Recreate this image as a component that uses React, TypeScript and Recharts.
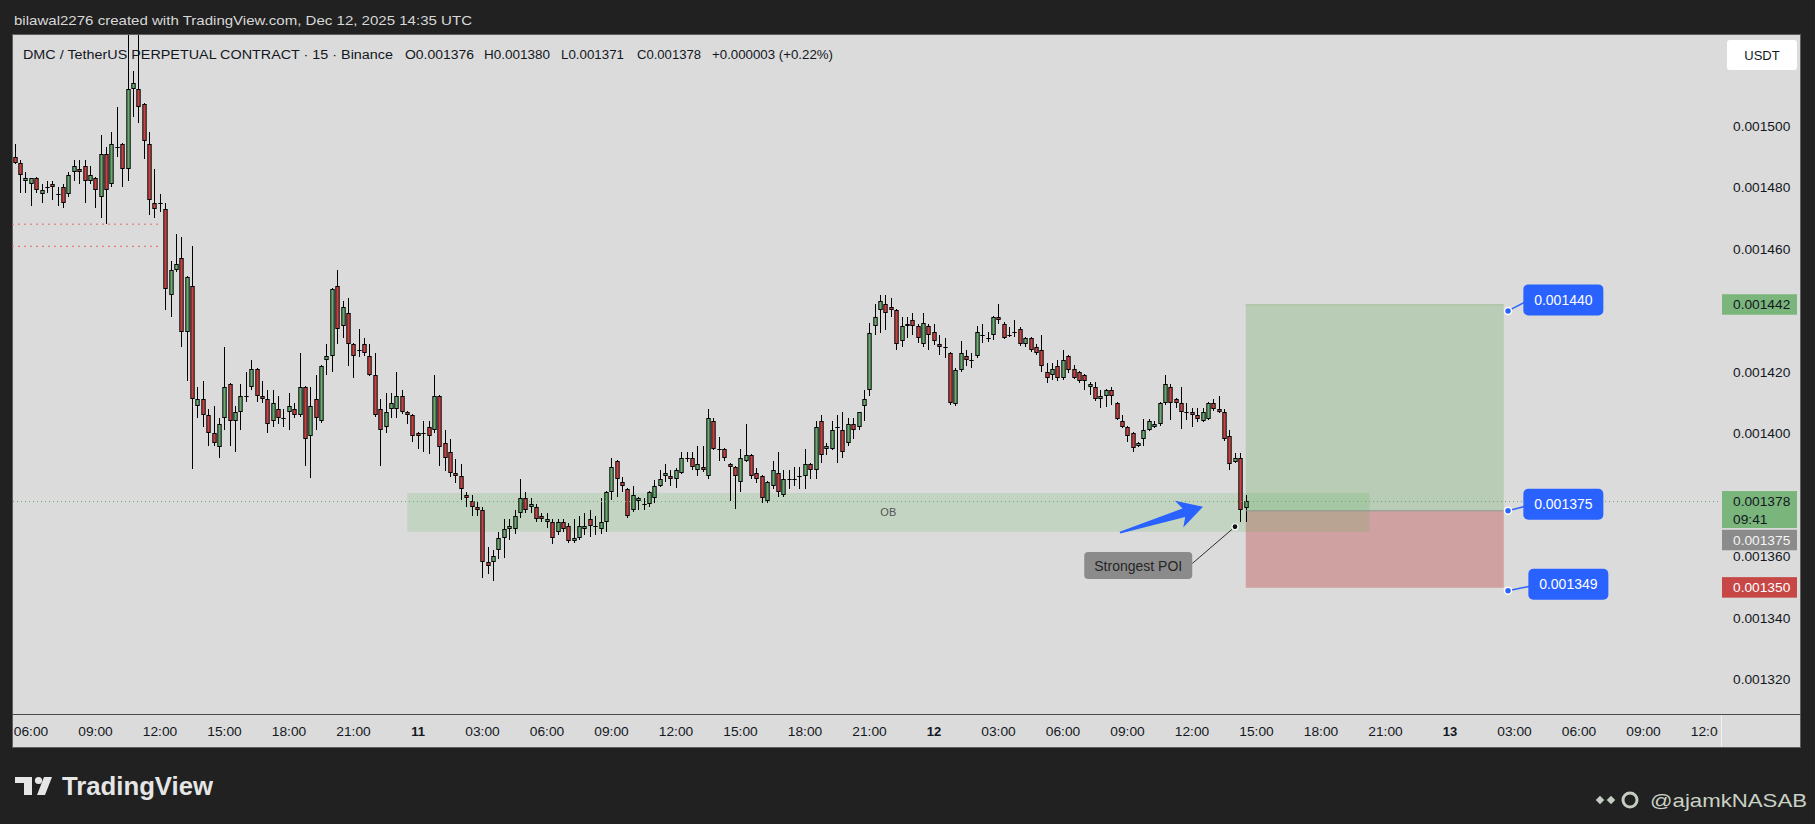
import React from "react";
import {
  ComposedChart,
  Bar,
  XAxis,
  YAxis,
  ReferenceArea,
  ReferenceLine,
  ReferenceDot
} from "recharts";

// DMC/USDT perpetual, 15 min bars, Binance
// prices are in millionths of USDT (1376 -> 0.001376)
// each row: open, high, low, close
const candles: [number, number, number, number][] = [
  [1490.0, 1494.3, 1487.8, 1488.0], [1488.0, 1489.1, 1478.2, 1484.1], [1482.1, 1485.1, 1478.2, 1483.1],
  [1481.2, 1483.1, 1474.2, 1483.1], [1483.1, 1483.6, 1478.2, 1479.2], [1477.9, 1481.2, 1475.2, 1479.2],
  [1480.2, 1482.1, 1478.2, 1480.2], [1481.2, 1482.1, 1476.2, 1480.2], [1477.9, 1480.2, 1474.2, 1477.9],
  [1480.2, 1481.2, 1473.3, 1475.0], [1477.9, 1485.1, 1477.2, 1484.1], [1485.1, 1489.1, 1482.1, 1487.0],
  [1486.0, 1489.1, 1481.4, 1485.1], [1487.0, 1489.1, 1475.2, 1482.1], [1482.1, 1487.0, 1481.2, 1484.1],
  [1483.1, 1483.5, 1473.3, 1479.2], [1477.2, 1497.2, 1470.3, 1490.9], [1490.9, 1493.2, 1468.4, 1479.2],
  [1481.2, 1498.2, 1480.4, 1494.2], [1493.2, 1506.3, 1490.2, 1493.2], [1494.2, 1494.6, 1480.4, 1486.0],
  [1486.0, 1533.0, 1482.4, 1512.1], [1512.1, 1518.0, 1503.2, 1514.0], [1512.1, 1533.0, 1501.2, 1506.2],
  [1507.2, 1507.6, 1489.3, 1495.2], [1494.2, 1498.2, 1471.3, 1476.0], [1475.0, 1486.0, 1470.3, 1473.0],
  [1475.0, 1477.9, 1472.3, 1475.0], [1473.0, 1475.0, 1440.4, 1447.0], [1445.1, 1456.2, 1438.1, 1453.2],
  [1453.2, 1465.0, 1452.8, 1455.2], [1457.1, 1464.0, 1428.4, 1433.0], [1433.0, 1451.3, 1417.3, 1450.9],
  [1448.0, 1461.1, 1388.5, 1411.2], [1409.0, 1415.1, 1405.3, 1411.2], [1411.2, 1417.1, 1402.4, 1406.0],
  [1406.0, 1408.0, 1396.2, 1400.2], [1400.2, 1409.0, 1396.2, 1396.9], [1395.9, 1405.1, 1392.3, 1403.1],
  [1405.1, 1428.3, 1401.4, 1415.1], [1416.1, 1416.5, 1396.2, 1404.1], [1404.1, 1409.0, 1394.2, 1407.0],
  [1407.0, 1416.1, 1401.4, 1412.2], [1412.2, 1420.0, 1410.3, 1412.2], [1415.1, 1424.0, 1414.2, 1421.0],
  [1421.0, 1421.4, 1410.3, 1412.2], [1412.2, 1417.1, 1409.9, 1411.2], [1411.2, 1414.2, 1400.4, 1403.1],
  [1404.1, 1414.2, 1402.4, 1409.9], [1408.0, 1412.2, 1403.3, 1405.1], [1405.1, 1408.0, 1402.4, 1405.1],
  [1407.0, 1413.2, 1401.4, 1409.0], [1408.0, 1409.9, 1405.1, 1406.0], [1406.0, 1426.2, 1405.6, 1415.1],
  [1415.1, 1415.5, 1389.4, 1398.2], [1399.2, 1415.1, 1385.6, 1409.0], [1411.2, 1419.1, 1401.4, 1405.1],
  [1404.1, 1422.4, 1403.7, 1422.0], [1423.9, 1429.1, 1419.1, 1425.2], [1425.2, 1447.4, 1420.0, 1447.0],
  [1448.0, 1453.2, 1429.1, 1434.0], [1435.0, 1443.1, 1431.1, 1441.2], [1439.2, 1444.1, 1422.2, 1429.1],
  [1429.1, 1429.5, 1418.1, 1425.2], [1427.2, 1434.0, 1425.1, 1427.2], [1429.1, 1431.1, 1425.2, 1426.2],
  [1425.2, 1429.1, 1418.7, 1419.1], [1419.1, 1426.2, 1405.6, 1406.0], [1408.0, 1411.2, 1389.4, 1401.2],
  [1402.1, 1413.2, 1400.4, 1407.0], [1408.0, 1413.2, 1405.1, 1409.9], [1408.0, 1420.0, 1405.1, 1412.2],
  [1412.2, 1414.2, 1406.6, 1407.0], [1407.0, 1407.4, 1403.3, 1406.0], [1406.0, 1406.4, 1397.3, 1399.2],
  [1400.2, 1400.6, 1395.2, 1399.2], [1400.2, 1404.1, 1394.2, 1400.2], [1402.1, 1404.2, 1393.4, 1399.3],
  [1401.2, 1419.1, 1400.4, 1412.2], [1412.2, 1412.6, 1389.4, 1395.9], [1396.9, 1401.2, 1388.0, 1392.0],
  [1394.0, 1398.2, 1386.1, 1387.2], [1387.2, 1391.7, 1383.9, 1386.2], [1386.2, 1390.1, 1378.5, 1382.0],
  [1380.0, 1381.0, 1376.3, 1379.0], [1378.1, 1380.0, 1373.3, 1376.1], [1376.1, 1378.1, 1373.4, 1375.1],
  [1375.1, 1376.1, 1353.2, 1358.2], [1358.2, 1363.3, 1354.3, 1357.2], [1358.2, 1362.2, 1352.3, 1360.2],
  [1362.1, 1368.0, 1359.2, 1366.0], [1366.0, 1372.2, 1359.5, 1369.0], [1369.0, 1372.2, 1365.4, 1369.9],
  [1369.0, 1375.1, 1367.3, 1373.2], [1374.2, 1385.3, 1372.5, 1379.0], [1379.0, 1381.0, 1374.2, 1375.1],
  [1376.1, 1379.0, 1374.2, 1377.1], [1376.1, 1377.1, 1371.5, 1372.2], [1373.2, 1374.2, 1371.5, 1372.2],
  [1371.2, 1374.2, 1369.3, 1372.2], [1371.2, 1372.2, 1364.2, 1366.0], [1368.0, 1372.2, 1367.0, 1371.2],
  [1371.2, 1372.2, 1368.0, 1369.0], [1369.9, 1370.9, 1364.4, 1365.1], [1365.1, 1372.2, 1364.4, 1366.0],
  [1366.0, 1373.2, 1365.6, 1369.9], [1369.0, 1374.2, 1367.0, 1369.9], [1372.2, 1375.1, 1366.4, 1369.9],
  [1369.9, 1373.2, 1367.0, 1369.9], [1369.0, 1379.0, 1367.3, 1371.2], [1371.2, 1381.4, 1368.2, 1381.0],
  [1381.0, 1392.0, 1378.5, 1389.1], [1391.1, 1391.5, 1379.4, 1385.2], [1384.2, 1386.1, 1381.2, 1382.9],
  [1382.0, 1382.4, 1372.8, 1373.2], [1375.1, 1383.0, 1374.7, 1380.0], [1378.1, 1379.4, 1375.1, 1379.0],
  [1377.1, 1379.0, 1375.1, 1377.1], [1377.1, 1381.4, 1376.1, 1381.0], [1379.0, 1385.0, 1377.4, 1383.0],
  [1383.0, 1388.3, 1382.6, 1385.2], [1386.2, 1390.1, 1384.2, 1387.2], [1386.2, 1388.1, 1383.2, 1385.2],
  [1385.2, 1388.8, 1382.3, 1388.1], [1387.2, 1394.0, 1386.8, 1392.0], [1392.0, 1394.0, 1391.0, 1392.0],
  [1392.0, 1394.0, 1388.3, 1389.1], [1388.1, 1396.0, 1386.3, 1390.1], [1389.1, 1396.0, 1387.7, 1388.1],
  [1386.2, 1408.0, 1385.3, 1405.1], [1404.1, 1405.1, 1394.6, 1395.0], [1395.0, 1398.9, 1391.1, 1395.0],
  [1395.0, 1395.4, 1391.1, 1392.0], [1390.1, 1390.5, 1378.3, 1389.1], [1389.1, 1389.5, 1375.5, 1386.2],
  [1384.2, 1395.0, 1381.2, 1392.0], [1391.1, 1403.2, 1390.7, 1393.1], [1393.1, 1393.5, 1385.2, 1386.2],
  [1387.2, 1388.8, 1383.9, 1385.2], [1386.2, 1386.6, 1377.4, 1379.0], [1378.1, 1384.6, 1377.4, 1384.2],
  [1383.0, 1391.1, 1382.0, 1388.1], [1387.2, 1394.0, 1379.4, 1381.0], [1380.0, 1388.1, 1379.6, 1385.2],
  [1385.2, 1388.1, 1382.1, 1385.2], [1385.2, 1389.1, 1383.2, 1385.2], [1386.2, 1389.1, 1382.1, 1386.2],
  [1386.2, 1395.0, 1382.2, 1390.1], [1390.1, 1390.5, 1385.3, 1388.1], [1388.1, 1404.1, 1385.3, 1402.1],
  [1404.1, 1406.1, 1390.4, 1393.0], [1395.0, 1397.0, 1393.2, 1396.0], [1395.0, 1404.1, 1394.6, 1401.2],
  [1402.1, 1406.1, 1390.4, 1402.1], [1401.2, 1407.0, 1392.0, 1394.0], [1396.9, 1405.1, 1396.0, 1403.1],
  [1403.1, 1405.1, 1398.2, 1401.2], [1402.1, 1407.0, 1401.3, 1407.0], [1409.0, 1414.3, 1404.3, 1411.2],
  [1414.2, 1436.0, 1412.3, 1432.9], [1435.0, 1442.1, 1432.3, 1437.9], [1440.3, 1445.2, 1432.7, 1443.1],
  [1442.2, 1445.2, 1433.8, 1439.2], [1441.2, 1444.1, 1438.1, 1440.3], [1440.2, 1440.6, 1427.3, 1429.1],
  [1430.1, 1438.1, 1428.4, 1435.0], [1435.9, 1438.1, 1431.1, 1435.0], [1436.9, 1439.2, 1432.2, 1435.0],
  [1435.0, 1435.9, 1429.5, 1431.1], [1429.1, 1439.2, 1428.4, 1436.1], [1435.0, 1435.9, 1427.3, 1432.1],
  [1433.0, 1435.9, 1428.9, 1430.1], [1429.1, 1432.2, 1425.7, 1428.2], [1428.2, 1431.1, 1424.6, 1428.2],
  [1426.2, 1426.6, 1409.4, 1409.9], [1409.7, 1421.3, 1409.0, 1420.9], [1420.9, 1430.2, 1420.2, 1426.2],
  [1425.2, 1427.3, 1422.1, 1423.9], [1423.9, 1426.2, 1421.3, 1423.9], [1425.2, 1435.0, 1424.8, 1433.0],
  [1432.1, 1435.9, 1429.5, 1432.1], [1431.1, 1433.2, 1430.0, 1431.1], [1432.1, 1438.3, 1430.5, 1437.9],
  [1437.9, 1442.2, 1435.9, 1436.9], [1435.9, 1436.3, 1430.7, 1431.1], [1432.1, 1434.9, 1431.6, 1432.1],
  [1433.0, 1437.0, 1431.6, 1433.0], [1434.0, 1434.9, 1428.7, 1429.1], [1429.1, 1431.5, 1428.4, 1431.1],
  [1431.1, 1431.5, 1426.7, 1427.2], [1428.2, 1429.1, 1425.6, 1426.2], [1427.2, 1432.2, 1420.2, 1422.0],
  [1420.0, 1422.9, 1416.4, 1418.1], [1419.1, 1422.9, 1417.6, 1421.0], [1422.0, 1424.0, 1417.3, 1418.1],
  [1418.1, 1427.3, 1417.6, 1423.9], [1425.2, 1425.6, 1419.7, 1420.9], [1421.0, 1422.4, 1417.7, 1418.1],
  [1420.0, 1420.4, 1416.4, 1417.1], [1419.1, 1419.5, 1414.3, 1417.1], [1415.1, 1417.0, 1412.6, 1416.1],
  [1415.1, 1417.0, 1410.8, 1411.2], [1411.2, 1414.2, 1408.3, 1412.2], [1412.2, 1414.6, 1408.8, 1414.2],
  [1414.2, 1415.1, 1409.4, 1412.2], [1409.9, 1410.3, 1404.6, 1405.0], [1404.2, 1406.1, 1401.8, 1402.2],
  [1402.2, 1402.6, 1397.3, 1399.2], [1400.2, 1400.6, 1394.2, 1395.3], [1396.2, 1397.5, 1395.8, 1397.1],
  [1398.2, 1404.7, 1396.2, 1401.2], [1401.2, 1405.0, 1400.8, 1404.2], [1402.2, 1404.2, 1401.8, 1403.1],
  [1403.1, 1410.3, 1402.7, 1409.9], [1409.9, 1419.1, 1409.5, 1416.1], [1415.1, 1416.1, 1404.5, 1409.9],
  [1411.2, 1411.6, 1408.3, 1409.9], [1409.9, 1415.1, 1401.5, 1407.0], [1407.0, 1409.9, 1404.5, 1407.0],
  [1407.0, 1408.3, 1402.4, 1406.1], [1406.1, 1408.3, 1404.0, 1405.0], [1404.2, 1408.3, 1404.0, 1407.0],
  [1405.0, 1410.3, 1404.6, 1409.9], [1409.9, 1411.5, 1407.6, 1408.0], [1408.0, 1412.3, 1406.7, 1407.0],
  [1407.0, 1408.1, 1397.8, 1398.2], [1399.2, 1401.3, 1388.3, 1390.2], [1391.0, 1393.9, 1390.6, 1392.1],
  [1392.1, 1393.9, 1371.4, 1375.2], [1376.0, 1380.1, 1371.4, 1378.3]
];

// time in hours from Dec 10 00:00 UTC
const firstBarHour = 5.25;
const barStep = 0.25;

const timeTicks = [6, 9, 12, 15, 18, 21, 24, 27, 30, 33, 36, 39, 42, 45, 48, 51, 54, 57, 60, 63, 66, 69, 72, 75, 78, 81, 84];
const timeLabels = [
  "06:00", "09:00", "12:00", "15:00", "18:00", "21:00", "11",
  "03:00", "06:00", "09:00", "12:00", "15:00", "18:00", "21:00", "12",
  "03:00", "06:00", "09:00", "12:00", "15:00", "18:00", "21:00", "13",
  "03:00", "06:00", "09:00", "12:00"
];
const priceTicks = [1320, 1340, 1360, 1380, 1400, 1420, 1440, 1460, 1480, 1500];

// drawings
const lastPrice = 1378;
const countdown = "09:41";
const positionTimes = [62.5, 74.5];
const positionPrices = [1350, 1375, 1442]; // stop, entry, target
const obTimes = [23.5, 68.25];
const obPrices = [1368.2, 1380.8];
const gapLevels = [1468.2, 1461.0];
const gapEndTime = 12;
const noteTime = 74.7;
const notePrices = [1440, 1375, 1349];
const arrowPoints = [{ x: 56.65, y: 1367.9 }, { x: 60.51, y: 1376.3 }];
const poiPoints = [{ x: 62, y: 1369.8 }, { x: 57.5, y: 1357.2 }];

const xDomain = [5.116, 84.465];
const yDomain = [1308.91, 1529.72];

const GREEN = "#69aa6e";
const RED = "#c94343";
const BLUE = "#2962ff";
const INK = "#131722";
const AXIS_FONT = "Liberation Sans, Arial, sans-serif";
const PLOT_RIGHT = 1706;

const fmt = (v: number) => (v / 1e6).toFixed(6);

const data = candles.map(([open, high, low, close], i) => ({
  t: firstBarHour + i * barStep,
  open,
  high,
  low,
  close,
  range: [low, high]
}));

function Candle(props: any) {
  const { x, y, width, height, payload } = props;
  if (x == null || y == null || !payload) return null;
  const { open, high, low, close } = payload;
  const span = high - low || 1;
  const toY = (p: number) => y + ((high - p) / span) * height;
  const col = Math.floor(x + width / 2);
  const mid = col + 0.5;
  const top = Math.round(toY(Math.max(open, close)));
  const bottom = Math.max(top + 1, Math.round(toY(Math.min(open, close))));
  const h = bottom - top;
  return (
    <g>
      <rect
        x={col}
        y={Math.round(y)}
        width={1}
        height={Math.max(1, Math.round(y + height) - Math.round(y))}
        fill="#000"
        shapeRendering="crispEdges"
      />
      <rect x={mid - 2.2} y={top} width={4.4} height={h} fill="#000" />
      {h > 2 && (
        <rect x={mid - 1.2} y={top + 1} width={2.4} height={h - 2} fill={close >= open ? GREEN : RED} />
      )}
    </g>
  );
}

function TimeTick(props: any) {
  const { x, y, payload } = props;
  const i = timeTicks.indexOf(payload.value);
  const label = timeLabels[i] ?? "";
  const day = !label.includes(":");
  return (
    <g>
      <defs>
        <clipPath id={`tclip-${i}`}>
          <rect x={x - 40} y={y} width={Math.max(0, PLOT_RIGHT - (x - 40))} height={34} />
        </clipPath>
      </defs>
      <text
        x={x}
        y={y + 22}
        textAnchor="middle"
        clipPath={`url(#tclip-${i})`}
        fill={INK}
        fontSize={13}
        fontWeight={day ? 700 : 400}
        fontFamily={AXIS_FONT}
        textLength={day ? undefined : 34.5}
        lengthAdjust="spacingAndGlyphs"
      >
        {label}
      </text>
    </g>
  );
}

// tick labels hidden under the price tags on the scale
const taggedPrices = [lastPrice, positionPrices[2]];

function PriceTick(props: any) {
  const { x, y, payload } = props;
  const v = payload.value;
  if (taggedPrices.some((p) => Math.abs(p - v) < 4)) return null;
  return (
    <text x={x} y={y + 4.5} fill={INK} fontSize={13} fontFamily={AXIS_FONT} textLength={57.3} lengthAdjust="spacingAndGlyphs">
      {fmt(v)}
    </text>
  );
}

function AxisTag(props: any) {
  const { viewBox, text, sub, fill, color, dy = 0 } = props;
  if (!viewBox) return null;
  const x = viewBox.x + viewBox.width + 4;
  const cy = viewBox.y + dy;
  const h = sub ? 37 : 20.5;
  const common = {
    fill: color,
    fontSize: 13,
    fontFamily: AXIS_FONT,
    lengthAdjust: "spacingAndGlyphs" as const
  };
  return (
    <g>
      <rect x={x} y={cy - 10.5} width={75} height={h} fill={fill} />
      <text x={x + 11} y={cy + 4.5} textLength={57.3} {...common}>
        {text}
      </text>
      {sub && (
        <text x={x + 11} y={cy + 22} textLength={34.5} {...common}>
          {sub}
        </text>
      )}
    </g>
  );
}

function PriceNote(props: any) {
  const { cx, cy, text, dx, dy } = props;
  if (cx == null || cy == null) return null;
  const left = cx + dx;
  const mid = cy + dy;
  return (
    <g>
      <line x1={cx} y1={cy} x2={left + 2} y2={mid + 2} stroke={BLUE} strokeWidth={1.5} />
      <rect x={left} y={mid - 15.5} width={80} height={31} rx={5} fill={BLUE} />
      <text
        x={left + 40}
        y={mid + 5}
        textAnchor="middle"
        fill="#fff"
        fontSize={14}
        fontFamily={AXIS_FONT}
      >
        {text}
      </text>
      <circle cx={cx} cy={cy} r={3.5} fill={BLUE} stroke="#fff" strokeWidth={1.5} />
    </g>
  );
}

function Arrow(props: any) {
  const { x1, y1, x2, y2 } = props;
  if (x1 == null) return null;
  const L = Math.hypot(x2 - x1, y2 - y1);
  const ux = (x2 - x1) / L;
  const uy = (y2 - y1) / L;
  const p = (a: number, b: number) => `${x1 + ux * a - uy * b},${y1 + uy * a + ux * b}`;
  const pts = [p(0, -1), p(L - 20, -4.5), p(L - 25, -14), p(L, 0), p(L - 25, 14), p(L - 20, 4.5), p(0, 1)];
  return <polygon points={pts.join(" ")} fill={BLUE} />;
}

function PoiCallout(props: any) {
  const { x1, y1, x2, y2 } = props;
  if (x1 == null) return null;
  return (
    <g>
      <line x1={x1} y1={y1} x2={x2 + 54} y2={y2 - 2} stroke="#2f2f2f" />
      <rect x={x2 - 54} y={y2 - 13.5} width={108} height={27} rx={4} fill="#8b8b8b" />
      <text
        x={x2}
        y={y2 + 5}
        textAnchor="middle"
        fill="#262626"
        fontSize={14}
        fontFamily={AXIS_FONT}
      >
        Strongest POI
      </text>
      <circle cx={x1} cy={y1} r={3} fill="#111" stroke="#fff" strokeWidth={1.2} />
    </g>
  );
}

export default function App() {
  const [stop, entry, target] = positionPrices;
  return (
    <div
      style={{
        position: "absolute",
        left: 0,
        top: 0,
        width: 1815,
        height: 824,
        background: "#212121",
        overflow: "hidden",
        fontFamily: AXIS_FONT
      }}
    >
      {/* chart pane */}
      <div
        style={{
          position: "absolute",
          left: 12,
          top: 34,
          width: 1789,
          height: 714,
          background: "#dbdbdb",
          boxSizing: "border-box",
          border: "1px solid #5e5e5e"
        }}
      />
      <div style={{ position: "absolute", left: 12, top: 34 }}>
        <ComposedChart
          width={1789}
          height={714}
          data={data}
          margin={{ top: 1, right: 0, bottom: 0, left: 0 }}
        >
          <XAxis
            dataKey="t"
            type="number"
            domain={xDomain}
            allowDataOverflow
            ticks={timeTicks}
            interval={0}
            height={34}
            tickSize={0}
            tickMargin={0}
            axisLine={false}
            tickLine={false}
            tick={<TimeTick />}
          />
          <YAxis
            orientation="right"
            type="number"
            domain={yDomain}
            allowDataOverflow
            ticks={priceTicks}
            interval={0}
            width={83}
            tickSize={0}
            tickMargin={15}
            axisLine={false}
            tickLine={false}
            tick={<PriceTick />}
          />

          {/* long position */}
          <ReferenceArea
            x1={positionTimes[0]}
            x2={positionTimes[1]}
            y1={entry}
            y2={target}
            fill="#b9ccb5"
            fillOpacity={1}
            stroke="none"
          />
          <ReferenceArea
            x1={positionTimes[0]}
            x2={positionTimes[1]}
            y1={stop}
            y2={entry}
            fill="#cfa1a1"
            fillOpacity={1}
            stroke="none"
          />
          <ReferenceLine
            segment={[{ x: positionTimes[0], y: target }, { x: positionTimes[1], y: target }]}
            stroke="#a3c29f"
          />
          <ReferenceLine
            segment={[{ x: positionTimes[0], y: entry }, { x: positionTimes[1], y: entry }]}
            stroke="#8c958b"
          />

          {/* order block */}
          <ReferenceArea
            x1={obTimes[0]}
            x2={obTimes[1]}
            y1={obPrices[0]}
            y2={obPrices[1]}
            fill="#4caf50"
            fillOpacity={0.17}
            stroke="none"
            label={{ value: "OB", position: "center", fill: "#555", fontSize: 11 }}
          />

          {gapLevels.map((lv) => (
            <ReferenceLine
              key={lv}
              segment={[{ x: xDomain[0], y: lv }, { x: gapEndTime, y: lv }]}
              stroke="#e06a6a"
              strokeDasharray="2 4"
            />
          ))}

          <Bar
            dataKey="range"
            barSize={4}
            isAnimationActive={false}
            shape={(p: any) => <Candle {...p} />}
          />

          <ReferenceLine
            y={lastPrice}
            stroke="#6aa86e"
            strokeDasharray="1 3"
            label={(p: any) => (
              <AxisTag {...p} text={fmt(lastPrice)} sub={countdown} fill="#7ab57b" color={INK} />
            )}
          />
          <ReferenceLine
            y={target}
            stroke="none"
            label={(p: any) => <AxisTag {...p} text={fmt(target)} fill="#7ab57b" color={INK} />}
          />
          <ReferenceLine
            y={entry}
            stroke="none"
            label={(p: any) => <AxisTag {...p} text={fmt(entry)} fill="#8b8b8b" color="#f4f4f4" dy={29.5} />}
          />
          <ReferenceLine
            y={stop}
            stroke="none"
            label={(p: any) => <AxisTag {...p} text={fmt(stop)} fill="#c74646" color="#ffffff" />}
          />

          <ReferenceLine segment={arrowPoints} stroke={BLUE} shape={(p: any) => <Arrow {...p} />} />
          <ReferenceLine segment={poiPoints} stroke="#2f2f2f" shape={(p: any) => <PoiCallout {...p} />} />

          {notePrices.map((np, i) => (
            <ReferenceDot
              key={np}
              x={noteTime}
              y={np}
              r={3}
              shape={(p: any) => (
                <PriceNote {...p} text={fmt(np)} dx={i === 2 ? 20.3 : 15.3} dy={i === 0 ? -11 : -6.5} />
              )}
            />
          ))}
        </ComposedChart>
      </div>

      {/* texts and frame details */}
      <svg
        width={1815}
        height={824}
        style={{ position: "absolute", left: 0, top: 0, pointerEvents: "none" }}
      >
        <text x={14} y={24.5} fill="#d8d8d8" fontSize={13} textLength={458} lengthAdjust="spacingAndGlyphs">
          bilawal2276 created with TradingView.com, Dec 12, 2025 14:35 UTC
        </text>
        <g fill={INK} fontSize={12.5}>
          <text x={23} y={58.5} textLength={370} lengthAdjust="spacingAndGlyphs">
            DMC / TetherUS PERPETUAL CONTRACT · 15 · Binance
          </text>
          <text x={405} y={58.5} textLength={69} lengthAdjust="spacingAndGlyphs">O0.001376</text>
          <text x={484} y={58.5} textLength={66} lengthAdjust="spacingAndGlyphs">H0.001380</text>
          <text x={561} y={58.5} textLength={63} lengthAdjust="spacingAndGlyphs">L0.001371</text>
          <text x={637} y={58.5} textLength={64} lengthAdjust="spacingAndGlyphs">C0.001378</text>
          <text x={712} y={58.5} textLength={121} lengthAdjust="spacingAndGlyphs">+0.000003 (+0.22%)</text>
        </g>

        <rect x={1727} y={40} width={70} height={30} rx={3} fill="#ffffff" />
        <text x={1762} y={59.5} textAnchor="middle" fill={INK} fontSize={13}>
          USDT
        </text>

        <line x1={12} x2={1801} y1={714.5} y2={714.5} stroke="#4a4a4a" />
        <line x1={1721.5} x2={1721.5} y1={715} y2={747} stroke="#f2f2f2" />

        {/* logo */}
        <g fill="#e6e6e6">
          <rect x={15} y={777} width={17} height={6} />
          <rect x={24} y={777} width={8} height={18} />
          <circle cx={38.5} cy={780.5} r={3.6} />
          <polygon points="44,777 52,777 45,795 37,795" />
        </g>
        <text
          x={62}
          y={795}
          fill="#e6e6e6"
          fontSize={25}
          fontWeight={700}
          textLength={151}
          lengthAdjust="spacingAndGlyphs"
        >
          TradingView
        </text>

        {/* watermark */}
        <g fill="#c5cdc1">
          <rect x={1597} y={797} width={6} height={6} transform="rotate(45 1600 800)" />
          <rect x={1608} y={797} width={6} height={6} transform="rotate(45 1611 800)" />
          <circle cx={1630} cy={800} r={7} fill="none" stroke="#c5cdc1" strokeWidth={3} />
        </g>
        <text x={1650} y={807} fill="#c9d1c5" fontSize={19} textLength={157} lengthAdjust="spacingAndGlyphs">
          @ajamkNASAB
        </text>
      </svg>
    </div>
  );
}
